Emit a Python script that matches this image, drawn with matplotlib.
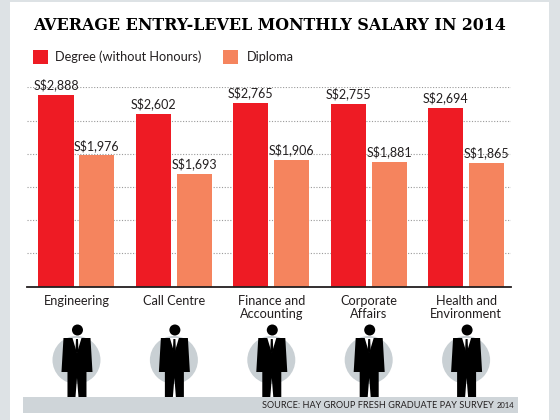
import numpy as np
import matplotlib
matplotlib.use("Agg")
import matplotlib.pyplot as plt
from matplotlib.patches import Rectangle, Circle, Polygon

# data
categories = ["Engineering", "Call Centre", "Finance and\nAccounting",
              "Corporate\nAffairs", "Health and\nEnvironment"]
degree = [2888, 2602, 2765, 2755, 2694]
diploma = [1976, 1693, 1906, 1881, 1865]
series_names = ["Degree (without Honours)", "Diploma"]

RED = "#ee1b24"
SALMON = "#f5845e"
BORDER = "#dde2e5"
CIRCLE = "#c9d0d4"
BAND = "#cfd5d9"
INK = "#231f20"
SANS = ["Lato", "DejaVu Sans"]

fig = plt.figure(figsize=(5.6, 4.2), dpi=100, facecolor=BORDER)

# background layer in pixel coordinates
bg = fig.add_axes([0, 0, 1, 1])
bg.set_xlim(0, 560)
bg.set_ylim(420, 0)
bg.axis("off")
bg.set_zorder(0)
bg.add_patch(Rectangle((10, 2), 539, 420, color="white", lw=0))

# --- main bar chart ---
ax = fig.add_axes([27 / 560, 1 - 286.5 / 420, (511 - 27) / 560, (286.5 - 87.3) / 420])
ax.set_zorder(1)
ax.patch.set_alpha(0)

x = np.arange(len(categories))
off, w = 0.21, 0.36
ax.bar(x - off, degree, w, color=RED, zorder=2)
ax.bar(x + off, diploma, w, color=SALMON, zorder=2)

for xi, v in zip(x - off, degree):
    ax.annotate(f"S${v:,}", (xi, v), xytext=(0, 2.5), textcoords="offset points",
                ha="center", va="bottom", fontsize=9, family=SANS, color=INK)
for xi, v in zip(x + off, diploma):
    ax.annotate(f"S${v:,}", (xi, v), xytext=(0, 2.5), textcoords="offset points",
                ha="center", va="bottom", fontsize=9, family=SANS, color=INK)

ax.set_xlim(-0.508, 4.461)
ax.set_ylim(0, 3000)
ax.set_yticks(np.arange(500, 3001, 500))
ax.set_yticklabels([])
ax.tick_params(axis="y", length=0)
ax.yaxis.grid(True, ls=(0, (1, 1.5)), color="#9a9a9a", lw=0.8)
ax.set_axisbelow(True)
ax.set_xticks(x)
ax.set_xticklabels(categories, fontsize=9.2, family=SANS, color=INK, linespacing=1.15)
ax.tick_params(axis="x", length=0, pad=6)
for s in ["top", "left", "right"]:
    ax.spines[s].set_visible(False)
ax.spines["bottom"].set_color(INK)
ax.spines["bottom"].set_linewidth(1.3)

# --- title ---
title = bg.text(33, 25, "AVERAGE ENTRY-LEVEL MONTHLY SALARY IN 2014",
                ha="left", va="center", family="DejaVu Serif", weight="heavy",
                fontsize=14, color="black")
r = fig.canvas.get_renderer()
tw = title.get_window_extent(r).width
title.set_fontsize(14 * 474 / tw)

# --- legend ---
bg.add_patch(Rectangle((33, 50), 15, 14, color=RED, lw=0))
bg.text(55, 57, series_names[0], ha="left", va="center", fontsize=9.2, family=SANS, color=INK)
bg.add_patch(Rectangle((223, 50), 15, 14, color=SALMON, lw=0))
bg.text(247, 57, series_names[1], ha="left", va="center", fontsize=9.2, family=SANS, color=INK)


# --- person icons ---
def draw_person(cx):
    bg.add_patch(Circle((cx, 360), 24, color=CIRCLE, lw=0))
    bg.add_patch(Circle((cx + 1, 330), 5.5, color="black", lw=0))
    body = [(cx - 13, 338), (cx + 14, 338), (cx + 16, 372), (cx + 10, 372),
            (cx + 10, 397), (cx + 2, 397), (cx + 0.5, 378), (cx - 1, 397),
            (cx - 9, 397), (cx - 9, 372), (cx - 15, 372)]
    bg.add_patch(Polygon(body, closed=True, color="black", lw=0))
    bg.add_patch(Polygon([(cx - 4, 338), (cx + 5, 338), (cx + 0.5, 353)],
                         closed=True, color="white", lw=0))
    bg.add_patch(Polygon([(cx - 0.5, 339), (cx + 1.5, 339), (cx + 2, 351),
                          (cx + 0.5, 354), (cx - 1, 351)], closed=True, color="black", lw=0))


for cx in ax.transData.transform(np.column_stack([x, np.zeros(len(x))]))[:, 0]:
    draw_person(cx)

# --- source band ---
bg.add_patch(Rectangle((23, 397), 495, 16, color=BAND, lw=0, zorder=3))
year = bg.text(514, 405.5, "2014", ha="right", va="center", fontsize=5.5,
               family=SANS, color=INK, zorder=4)
yx0 = year.get_window_extent(r).x0
bg.text(yx0 - 3, 405, "SOURCE: HAY GROUP FRESH GRADUATE PAY SURVEY", ha="right",
        va="center", fontsize=6.6, family=SANS, color=INK, zorder=4)

fig.savefig("out.png", dpi=100, facecolor=BORDER)
